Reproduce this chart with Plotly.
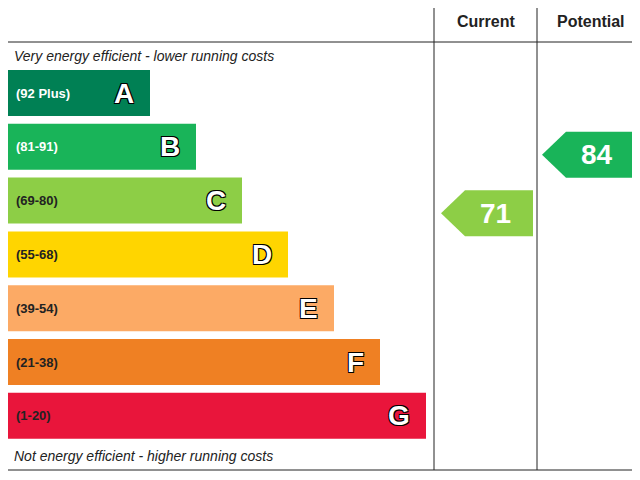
import plotly.graph_objects as go

bands = ["A", "B", "C", "D", "E", "F", "G"]
ranges = ["(92 Plus)", "(81-91)", "(69-80)", "(55-68)", "(39-54)", "(21-38)", "(1-20)"]
colors = ["#008054", "#19b459", "#8dce46", "#ffd500", "#fcaa65", "#ef8023", "#e9153b"]
range_colors = ["white", "white", "#222", "#222", "#222", "#222", "#222"]
current = 71
potential = 84

fig = go.Figure()
centers = [93 + 53.8 * i for i in range(7)]
lengths = [148 + 46 * i for i in range(7)]
fig.add_trace(go.Bar(orientation="h", base=2, x=lengths, y=centers, width=46,
                     marker=dict(color=colors, line=dict(width=0)), hoverinfo="skip"))
outline = "-1px -1px 0 #000, 1px -1px 0 #000, -1px 1px 0 #000, 1px 1px 0 #000"
for i in range(7):
    fig.add_annotation(x=14, y=centers[i], text=f"<b>{ranges[i]}</b>", showarrow=False,
                       xanchor="left", font=dict(size=13, color=range_colors[i], family="Arial"))
    fig.add_annotation(x=2 + lengths[i] - 14, y=centers[i], text=f"<b>{bands[i]}</b>", showarrow=False,
                       xanchor="right", font=dict(size=28, color="white", family="Arial", shadow=outline))

def band_y(v):
    lo = [92, 81, 69, 55, 39, 21, 1]
    hi = [200, 91, 80, 68, 54, 38, 20]
    for i in range(7):
        if v >= lo[i]:
            frac = (hi[i] - v) / (hi[i] - lo[i])
            return centers[i] - 20 + 40 * frac
    return centers[-1]

def arrow(x0, x1, y, val, col):
    h = 23
    xs = [x0, x0 + 24, x1, x1, x0 + 24, x0]
    ys = [y, y - h, y - h, y + h, y + h, y]
    fig.add_trace(go.Scatter(x=xs, y=ys, fill="toself", fillcolor=col, mode="lines",
                             line=dict(width=0, color=col), hoverinfo="skip"))
    fig.add_annotation(x=(x0 + 24 + x1) / 2 - 4, y=y, text=f"<b>{val}</b>", showarrow=False,
                       font=dict(size=28, color="white", family="Arial"))

def col_of(v):
    lo = [92, 81, 69, 55, 39, 21, 1]
    for i in range(7):
        if v >= lo[i]:
            return colors[i]
    return colors[-1]

arrow(441, 533, band_y(current), current, col_of(current))
arrow(542, 635, band_y(potential), potential, col_of(potential))

ln = dict(color="#222", width=1)
shapes = [
    dict(type="line", x0=1, x1=1, y0=2, y1=480, line=ln),
    dict(type="line", x0=639, x1=639, y0=2, y1=480, line=ln),
    dict(type="line", x0=1, x1=639, y0=2, y1=2, line=ln),
    dict(type="line", x0=434, x1=434, y0=2, y1=470, line=ln),
    dict(type="line", x0=537, x1=537, y0=2, y1=470, line=ln),
    dict(type="line", x0=1, x1=639, y0=42, y1=42, line=ln),
    dict(type="line", x0=1, x1=639, y0=470, y1=470, line=ln),
]
fig.add_annotation(x=486, y=21, text="<b>Current</b>", showarrow=False, font=dict(size=16, color="#222", family="Arial"))
fig.add_annotation(x=591, y=21, text="<b>Potential</b>", showarrow=False, font=dict(size=16, color="#222", family="Arial"))
fig.add_annotation(x=12, y=56, text="<i>Very energy efficient - lower running costs</i>", showarrow=False,
                   xanchor="left", font=dict(size=14, color="#222", family="Arial"))
fig.add_annotation(x=12, y=456, text="<i>Not energy efficient - higher running costs</i>", showarrow=False,
                   xanchor="left", font=dict(size=14, color="#222", family="Arial"))

# page body has an 8px margin; shift axis ranges so coordinates match screen pixels
fig.update_layout(width=640, height=480, margin=dict(l=0, r=0, t=0, b=0), showlegend=False,
                  plot_bgcolor="white", paper_bgcolor="white", shapes=shapes,
                  xaxis=dict(range=[8, 648], visible=False, fixedrange=True),
                  yaxis=dict(range=[488, 8], visible=False, fixedrange=True))
fig.write_html("out.html", config={"displayModeBar": False})
